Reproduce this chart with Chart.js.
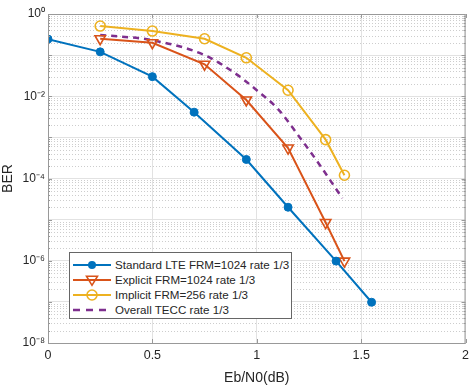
<!DOCTYPE html>
<html><head><meta charset="utf-8">
<script src="https://cdn.jsdelivr.net/npm/chart.js@4.4.1/dist/chart.umd.min.js"></script>
<style>
html,body{margin:0;padding:0;background:#fff;}
#wrap{position:relative;width:474px;height:387px;}
#legend{position:absolute;left:69px;top:252px;width:223px;height:67px;border:1px solid #666;background:#fff;box-sizing:border-box;font-family:'Liberation Sans',Arial,sans-serif;font-size:11.6px;color:#262626;}
.row{position:absolute;left:2px;height:15px;display:flex;align-items:center;white-space:nowrap;}
.row svg{margin-right:3px;}
</style></head>
<body>
<div id="wrap">
<canvas id="c" width="474" height="387"></canvas>
<div id="legend"></div>
</div>
<script>
// ---- data ----
const xTickValues = [0, 0.5, 1, 1.5, 2];
const yLabelExponents = [0, -2, -4, -6, -8];

const seriesNames = [
  'Standard LTE FRM=1024 rate 1/3',
  'Explicit FRM=1024 rate 1/3',
  'Implicit FRM=256 rate 1/3',
  'Overall TECC rate 1/3'
];

const standardX = [0, 0.25, 0.5, 0.7, 0.95, 1.15, 1.38, 1.55];
const standardY = [0.245, 0.12, 0.03, 0.0041, 2.9e-4, 2.0e-5, 9.8e-7, 9.8e-8];

const explicitX = [0.25, 0.5, 0.75, 0.95, 1.15, 1.33, 1.42];
const explicitY = [0.25, 0.2, 0.06, 0.0081, 5.5e-4, 8.5e-6, 9.8e-7];

const implicitX = [0.25, 0.5, 0.75, 0.95, 1.15, 1.33, 1.42];
const implicitY = [0.51, 0.385, 0.25, 0.086, 0.014, 8.8e-4, 1.2e-4];

const overallX = [0.25, 0.5, 0.75, 0.9, 1.0, 1.1, 1.2, 1.3, 1.41];
const overallY = [0.31, 0.23, 0.1, 0.035, 0.014, 0.005, 0.0011, 2.2e-4, 3.3e-5];

const colors = ['#0072BD', '#D95319', '#EDB120', '#7E2F8E'];
const FONT = "'Liberation Sans', Arial, sans-serif";

function pts(xs, ys){ return xs.map((x,i)=>({x:x, y:ys[i]})); }
const supMap = {'-':'\u207B','0':'\u2070','1':'\u00B9','2':'\u00B2','3':'\u00B3','4':'\u2074','5':'\u2075','6':'\u2076','7':'\u2077','8':'\u2078','9':'\u2079'};
function sup(n){ return String(n).split('').map(c=>supMap[c]).join(''); }

const frame = {
  id:'frame',
  beforeDatasetsDraw(chart){
    const {ctx, chartArea:a, scales:{y}} = chart;
    ctx.save();
    ctx.strokeStyle = '#cdcdcd'; ctx.lineWidth = 1; ctx.setLineDash([1,2]);
    for (let e=-8; e<0; e++){
      for (let m=2; m<=9; m++){
        const py = Math.round(y.getPixelForValue(m*Math.pow(10,e))) + 0.5;
        ctx.beginPath(); ctx.moveTo(a.left, py); ctx.lineTo(a.right, py); ctx.stroke();
      }
    }
    ctx.restore();
  },
  afterDatasetsDraw(chart){
    const {ctx, chartArea:a, scales:{x,y}} = chart;
    ctx.save();
    ctx.strokeStyle = '#999'; ctx.lineWidth = 1;
    ctx.strokeRect(a.left+0.5, a.top+0.5, a.right-a.left-1, a.bottom-a.top);
    ctx.beginPath();
    xTickValues.forEach(v=>{
      const px = Math.round(x.getPixelForValue(v))+0.5;
      ctx.moveTo(px, a.bottom); ctx.lineTo(px, a.bottom-4);
      ctx.moveTo(px, a.top); ctx.lineTo(px, a.top+4);
    });
    for (let e=-8; e<=0; e++){
      const py = Math.round(y.getPixelForValue(Math.pow(10,e)))+0.5;
      ctx.moveTo(a.left, py); ctx.lineTo(a.left+4, py);
      ctx.moveTo(a.right, py); ctx.lineTo(a.right-4, py);
      if (e<0){
        for (let m=2; m<=9; m++){
          const q = Math.round(y.getPixelForValue(m*Math.pow(10,e)))+0.5;
          ctx.moveTo(a.left, q); ctx.lineTo(a.left+2, q);
          ctx.moveTo(a.right, q); ctx.lineTo(a.right-2, q);
        }
      }
    }
    ctx.stroke();
    ctx.restore();
  }
};

new Chart(document.getElementById('c'), {
  type:'line',
  data:{ datasets:[
    {label:seriesNames[0], data:pts(standardX, standardY), borderColor:colors[0], backgroundColor:colors[0],
     borderWidth:2, pointStyle:'circle', pointRadius:4, pointBackgroundColor:colors[0], pointBorderColor:colors[0], pointBorderWidth:1},
    {label:seriesNames[1], data:pts(explicitX, explicitY), borderColor:colors[1], backgroundColor:'rgba(0,0,0,0)',
     borderWidth:2, pointStyle:'triangle', pointRotation:180, pointRadius:6, pointBackgroundColor:'rgba(0,0,0,0)', pointBorderColor:colors[1], pointBorderWidth:1.6},
    {label:seriesNames[2], data:pts(implicitX, implicitY), borderColor:colors[2], backgroundColor:'rgba(0,0,0,0)',
     borderWidth:2, pointStyle:'circle', pointRadius:5, pointBackgroundColor:'rgba(0,0,0,0)', pointBorderColor:colors[2], pointBorderWidth:1.6},
    {label:seriesNames[3], data:pts(overallX, overallY), borderColor:colors[3], backgroundColor:colors[3],
     borderWidth:2.5, borderDash:[6,5], pointRadius:0, cubicInterpolationMode:'monotone'}
  ]},
  options:{
    responsive:false, animation:false, devicePixelRatio:1,
    layout:{padding:{left:0, right:7, top:14, bottom:0}},
    plugins:{legend:{display:false}, tooltip:{enabled:false}},
    scales:{
      x:{type:'linear', min:0, max:2,
        afterBuildTicks:s=>{ s.ticks = xTickValues.map(v=>({value:v})); },
        ticks:{callback:v=>String(v), font:{family:FONT, size:12.5}, color:'#262626', padding:5, maxRotation:0, autoSkip:false},
        grid:{color:'#e2e2e2', drawTicks:false, lineWidth:1},
        border:{display:false},
        title:{display:true, text:'Eb/N0(dB)', font:{family:FONT, size:14}, color:'#262626', padding:0},
        afterFit:s=>{ s.height = 44; }
      },
      y:{type:'logarithmic', min:1e-8, max:1,
        afterBuildTicks:s=>{ const t=[]; for(let e=-8;e<=0;e++) t.push({value:Math.pow(10,e)}); s.ticks=t; },
        ticks:{callback:v=>{ const e=Math.round(Math.log10(v)); return yLabelExponents.includes(e) ? '10'+sup(e) : ''; },
          font:{family:FONT, size:12}, color:'#262626', padding:3, autoSkip:false},
        grid:{color:'#e2e2e2', drawTicks:false, lineWidth:1},
        border:{display:false},
        title:{display:true, text:'BER', font:{family:FONT, size:14}, color:'#262626', padding:0},
        afterFit:s=>{ s.width = 48; }
      }
    }
  },
  plugins:[frame]
});

// legend
const legend = document.getElementById('legend');
const svgNS = 'http://www.w3.org/2000/svg';
seriesNames.forEach((name,i)=>{
  const row = document.createElement('div');
  row.className='row';
  row.style.top = (4 + i*15) + 'px';
  let s = '<svg width="40" height="14" viewBox="0 0 40 14">';
  if (i===3){
    s += '<line x1="1" y1="7" x2="39" y2="7" stroke="'+colors[3]+'" stroke-width="2.5" stroke-dasharray="7,6"/>';
  } else {
    s += '<line x1="1" y1="7" x2="39" y2="7" stroke="'+colors[i]+'" stroke-width="2"/>';
    if (i===0) s += '<circle cx="20" cy="7" r="4" fill="'+colors[0]+'"/>';
    if (i===1) s += '<polygon points="14.5,3.2 25.5,3.2 20,12.3" fill="none" stroke="'+colors[1]+'" stroke-width="1.6"/>';
    if (i===2) s += '<circle cx="20" cy="7" r="5" fill="none" stroke="'+colors[2]+'" stroke-width="1.6"/>';
  }
  s += '</svg>';
  row.innerHTML = s + '<span>'+name+'</span>';
  legend.appendChild(row);
});
</script>
</body></html>
